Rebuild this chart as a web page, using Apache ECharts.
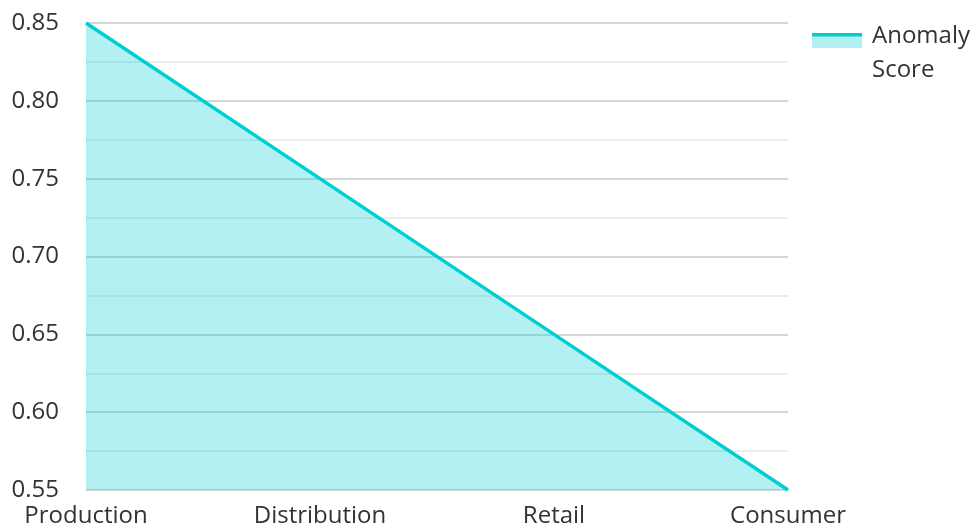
<!DOCTYPE html>
<html><head><meta charset="utf-8">
<script src="https://cdn.jsdelivr.net/npm/echarts@6/dist/echarts.min.js"></script>
<style>html,body{margin:0;padding:0;background:#fff}#c{width:977px;height:531px}</style>
</head><body><div id="c"></div>
<script>
const categories = ['Production', 'Distribution', 'Retail', 'Consumer'];
const anomalyScore = [0.85, 0.75, 0.65, 0.55];
const seriesName = 'Anomaly Score';
const yTicks = { min: 0.55, max: 0.85, interval: 0.05 };

const FONT = 'Open Sans';
const chart = echarts.init(document.getElementById('c'));
chart.setOption({
  animation: false,
  textStyle: { fontFamily: FONT },
  grid: { left: 86, right: 189, top: 23, bottom: 41 },
  legend: [
    {
      left: 812, top: 33, padding: 0, orient: 'vertical', selectedMode: false,
      icon: 'rect', itemWidth: 50, itemHeight: 15,
      itemStyle: { color: '#b2f0f1', borderWidth: 0 },
      formatter: () => '',
      textStyle: { fontSize: 1, color: 'rgba(0,0,0,0)' },
      data: [seriesName]
    },
    {
      left: 812, top: 19.5, padding: 0, orient: 'vertical', selectedMode: false,
      icon: 'path://M0,0L50,0L50,3.5L0,3.5Z M55,41L55,41',
      itemWidth: 55, itemHeight: 41,
      itemStyle: { color: '#00CED1', borderWidth: 0 },
      textStyle: { fontSize: 24, color: '#333', width: 110, overflow: 'break', lineHeight: 34, fontFamily: FONT },
      data: [seriesName]
    }
  ],
  xAxis: {
    type: 'category', data: categories, boundaryGap: false,
    axisLine: { show: false }, axisTick: { show: false },
    axisLabel: { fontSize: 24, color: '#333', margin: 14, fontFamily: FONT },
    splitLine: { show: false }
  },
  yAxis: {
    type: 'value', min: yTicks.min, max: yTicks.max, interval: yTicks.interval,
    axisLine: { show: false }, axisTick: { show: false },
    axisLabel: { fontSize: 24, color: '#333', margin: 27, fontFamily: FONT, formatter: v => v.toFixed(2) },
    splitLine: { lineStyle: { color: '#c8c8c8', width: 1.5 } },
    minorTick: { show: false, splitNumber: 2 },
    minorSplitLine: { show: true, lineStyle: { color: '#e6e6e6', width: 1.5 } }
  },
  series: [{
    name: seriesName, type: 'line', data: anomalyScore,
    symbol: 'none', lineStyle: { color: '#00CED1', width: 3.5 },
    itemStyle: { color: '#00CED1' },
    areaStyle: { color: '#00CED1', opacity: 0.3 }
  }]
});
</script></body></html>
